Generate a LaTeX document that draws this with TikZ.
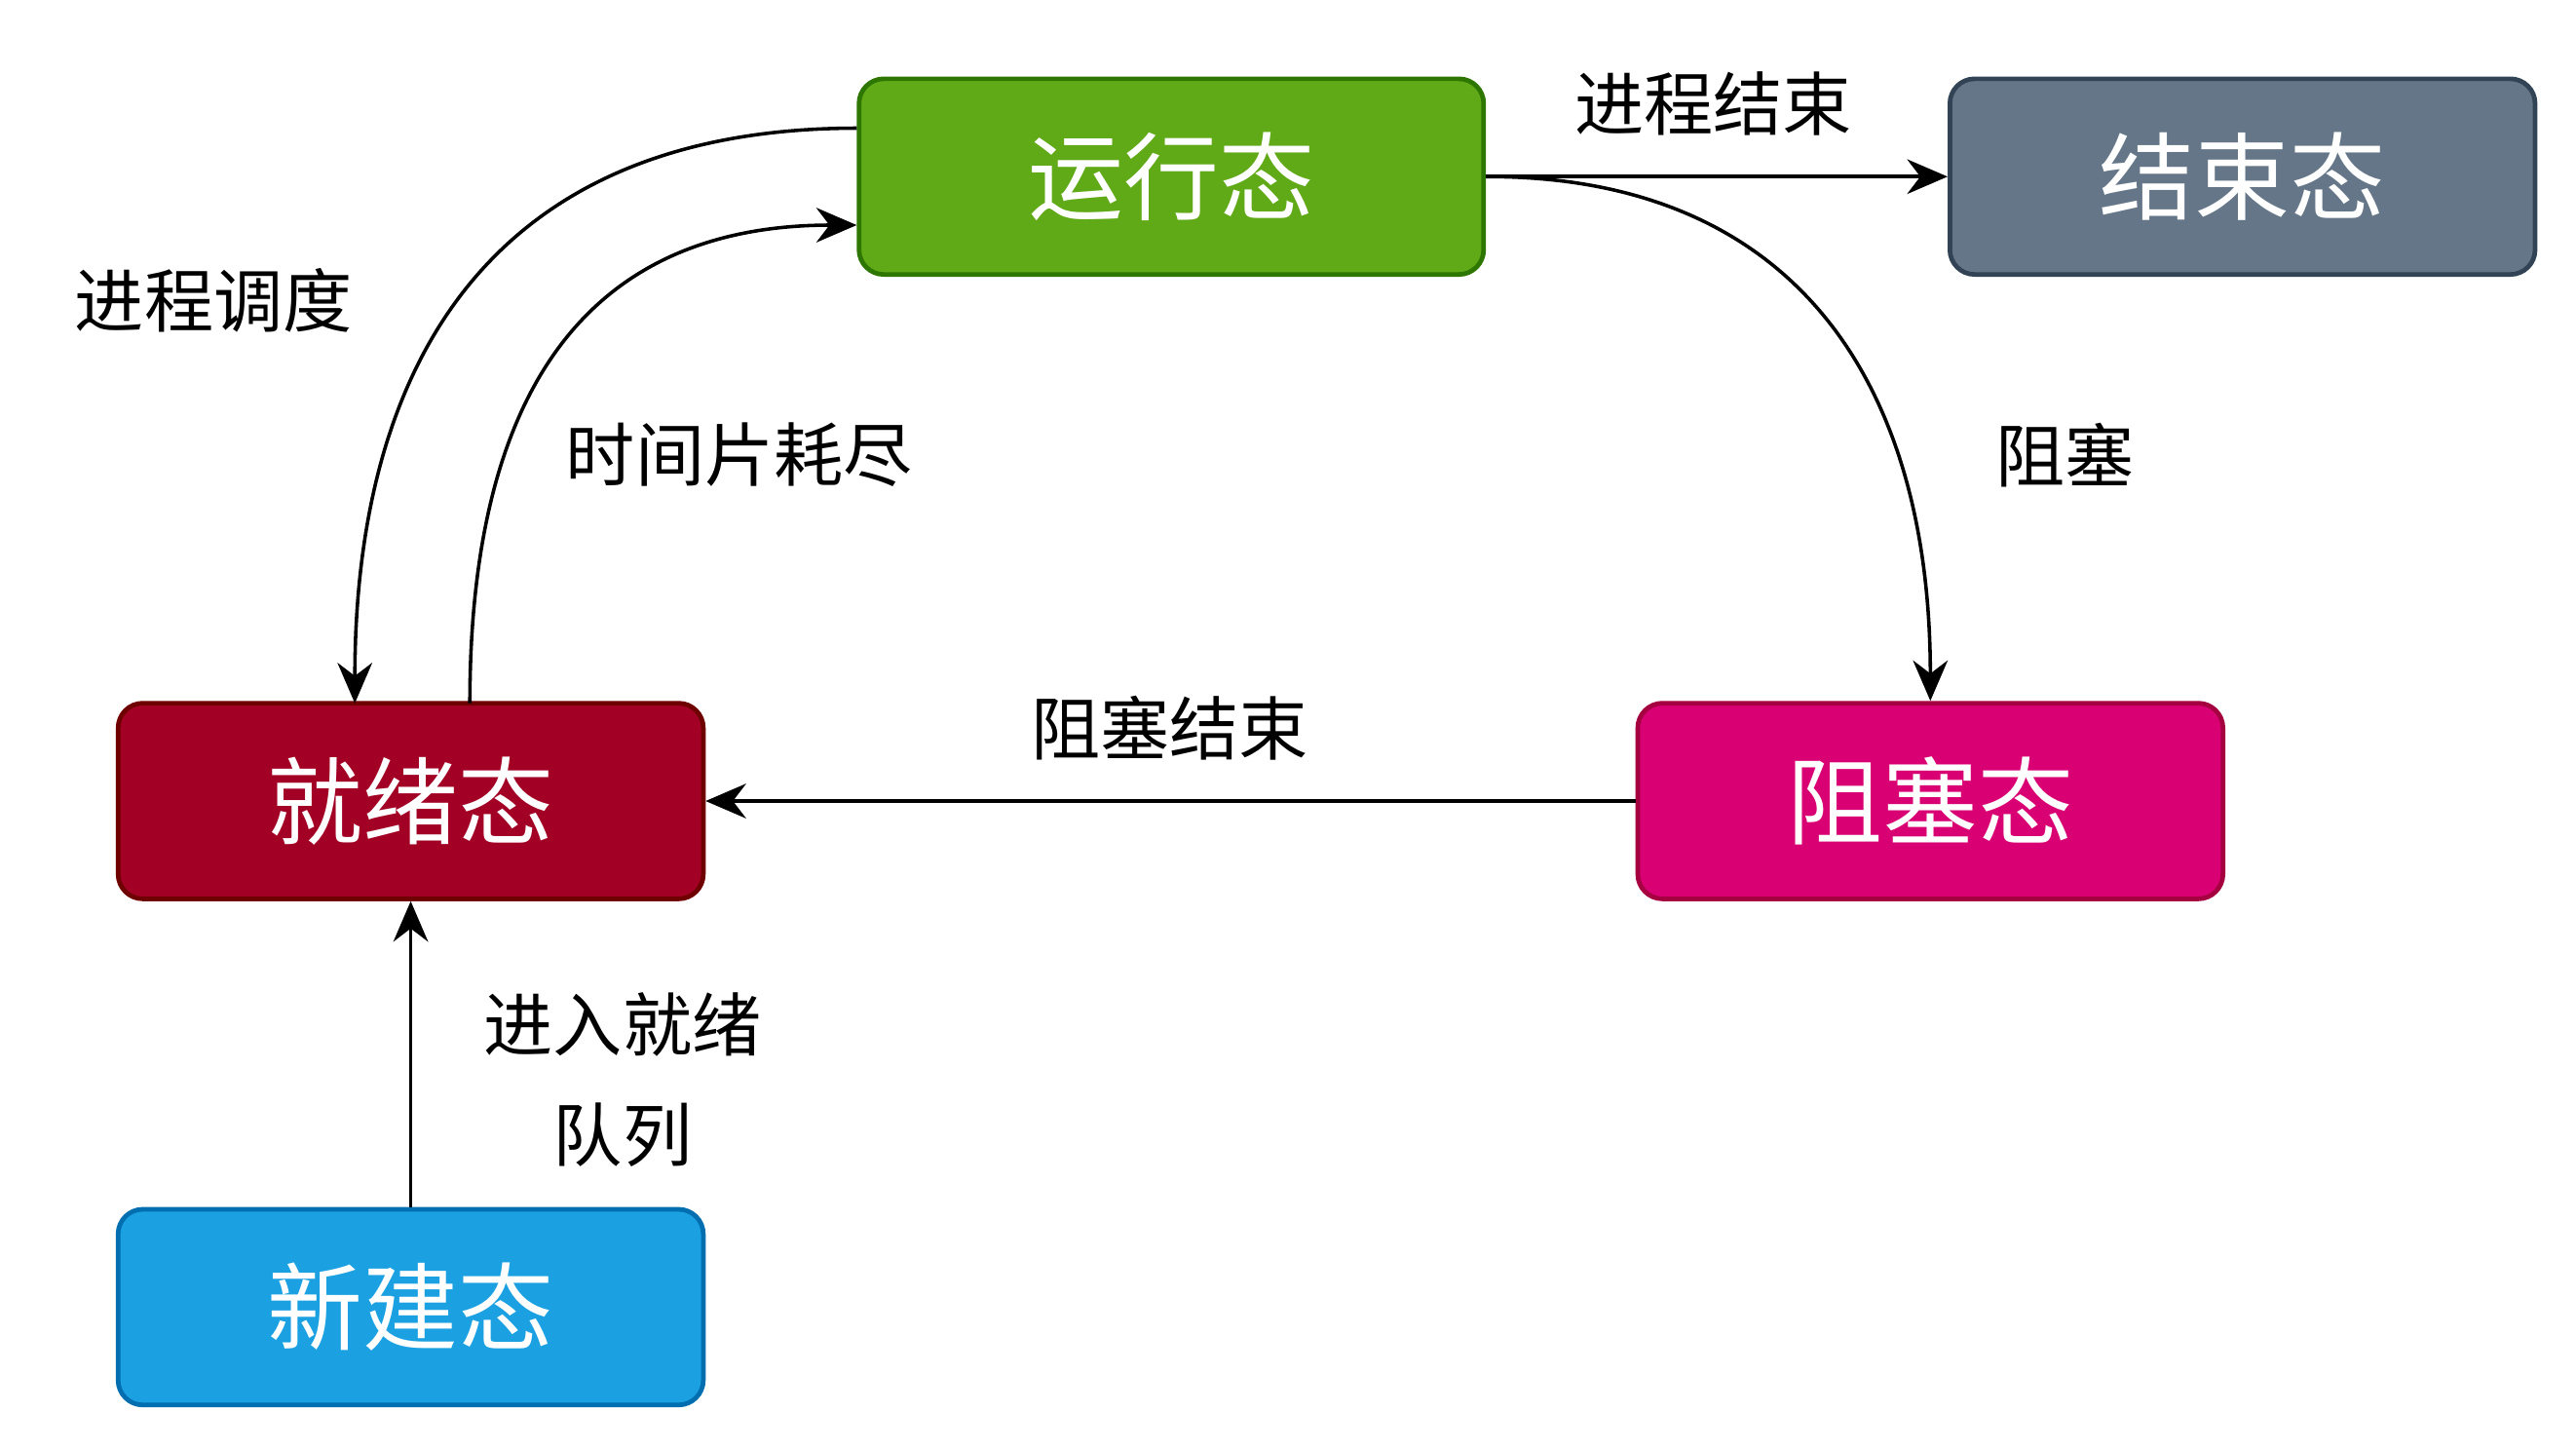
\documentclass[tikz,border=0pt]{standalone}
\usepackage{fontspec}
\setmainfont{Noto Sans CJK SC}
\usetikzlibrary{arrows.meta}
\definecolor{gf}{HTML}{60A917}\definecolor{gd}{HTML}{2D7600}
\definecolor{sf}{HTML}{647687}\definecolor{sd}{HTML}{314354}
\definecolor{rf}{HTML}{A20025}\definecolor{rd}{HTML}{6F0000}
\definecolor{pf}{HTML}{D80073}\definecolor{pd}{HTML}{A50040}
\definecolor{bf}{HTML}{1BA1E2}\definecolor{bd}{HTML}{006EAF}
\begin{document}
\begin{tikzpicture}[x=0.01cm,y=-0.01cm,
  state/.style={rounded corners=0.15cm,minimum width=3.56cm,minimum height=1.19cm,text=white,font=\fontsize{16.5}{18}\selectfont,line width=0.8pt,inner sep=0pt},
  lbl/.style={font=\fontsize{12}{19}\selectfont,align=center},
  conn/.style={line width=0.6pt,-{Stealth[length=7pt,width=6pt]}}]
\useasboundingbox (0,0) rectangle (1568,882);
\node[state,fill=gf,draw=gd,minimum width=3.80cm] (run) at (713,107.5) {运行态};
\node[state,fill=sf,draw=sd] (end) at (1365,107.5) {结束态};
\node[state,fill=rf,draw=rd] (ready) at (250,487.5) {就绪态};
\node[state,fill=pf,draw=pd] (block) at (1175,487.5) {阻塞态};
\node[state,fill=bf,draw=bd] (new) at (250,795.5) {新建态};
\coordinate (rl1) at (run.west |- 0,78);
\coordinate (rl2) at (run.west |- 0,137);
\coordinate (rt1) at (216,428);
\coordinate (rt2) at (286,428);
\draw[conn] (rl1) .. controls (300,78) and (216,220) .. (rt1);
\draw[conn] (rt2) .. controls (286,210) and (380,137) .. (rl2);
\draw[conn] (run.east) -- (end.west);
\draw[conn] (run.east) .. controls (1090,107) and (1175,230) .. (block.north);
\draw[conn] (block.west) -- (ready.east);
\draw[conn] (new.north) -- (ready.south);
\node[lbl] at (1043,63) {进程结束};
\node[lbl] at (130,183) {进程调度};
\node[lbl] at (450,277) {时间片耗尽};
\node[lbl] at (1257,277) {阻塞};
\node[lbl] at (712,443) {阻塞结束};
\node[lbl] at (379,657) {进入就绪\\队列};
\end{tikzpicture}
\end{document}
